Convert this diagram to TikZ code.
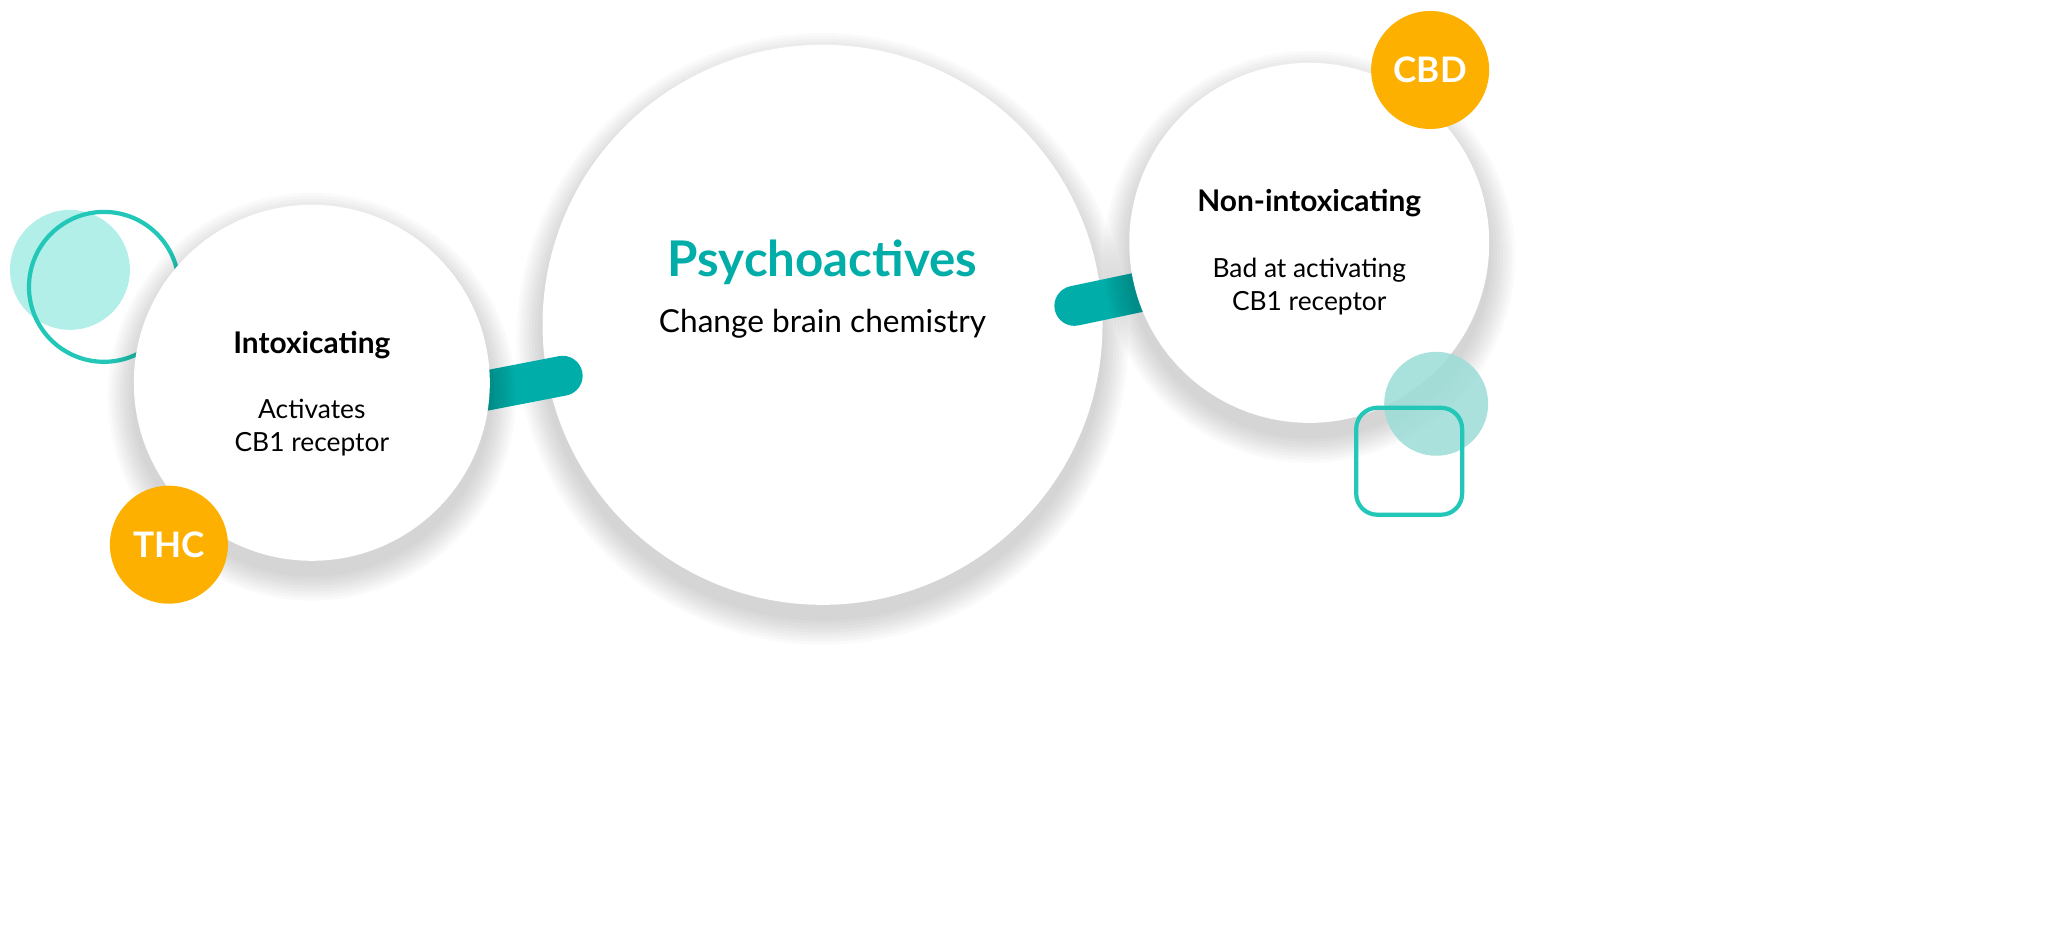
\documentclass[tikz,border=0pt]{standalone}
\usepackage{fontspec}
\setmainfont{Lato}
\usetikzlibrary{calc}
\definecolor{teal1}{HTML}{00ADA8}
\definecolor{tealline}{HTML}{22C7B8}
\definecolor{tealpale}{HTML}{B3EFE9}
\definecolor{tealsoft}{HTML}{9BDCD6}
\definecolor{amber}{HTML}{FDB000}
% soft shadow under a bubble: centre, radius
\newcommand{\bubbleshadow}[2]{%
  \foreach \d in {2,5,...,26}
    \fill[black,opacity=0.018] ($(#1)+(0,14)$) circle ({#2+\d});}
\begin{document}
\begin{tikzpicture}[x=0.01cm,y=-0.01cm,
  bubble/.style={circle,fill=white,inner sep=0pt},
  badge/.style={circle,fill=amber,inner sep=0pt,minimum size=1.18cm,text=white,font=\fontsize{10}{12}\selectfont\bfseries},
  bar/.style={teal1,line width=0.4cm},
  title/.style={font=\fontsize{8.5}{10}\selectfont\bfseries},
  body/.style={font=\fontsize{7.5}{9.5}\selectfont,align=center}]

\useasboundingbox (0cm,0cm) rectangle (20.48cm,-9.31cm);
\clip (0cm,0cm) rectangle (20.48cm,-9.31cm);

% decorations behind
\fill[tealpale] (70,270) circle (60);
\draw[tealline,line width=1.2pt] (104,287) circle (75);

\bubbleshadow{823,325}{280}
\node[bubble,minimum size=5.6cm] (psy) at (823,325) {};

% connectors
\coordinate (l1) at (470,394);
\coordinate (l2) at (563,376);
\coordinate (r1) at (1075,306);
\coordinate (r2) at (1170,286);
\draw[bar,line cap=round] (l1) -- (l2);
\draw[bar,line cap=round] (r1) -- (r2);

\bubbleshadow{312,383}{178}
\node[bubble,minimum size=3.56cm] (intox) at (312,383) {};
\bubbleshadow{1310,243}{180}
\node[bubble,minimum size=3.6cm] (nonintox) at (1310,243) {};

% texts
\node[font=\fontsize{14}{16}\selectfont\bfseries,text=teal1] at (823,262) {Psychoactives};
\node[font=\fontsize{9}{11}\selectfont] at (823,324) {Change brain chemistry};
\node[title] at (312,345) {Intoxicating};
\node[body] at (312,428) {Activates\\CB1 receptor};
\node[title] at (1310,203) {Non-intoxicating};
\node[body] at (1310,287) {Bad at activating\\CB1 receptor};

% badges and extras
\node[badge] (thc) at (169,545) {THC};
\node[badge] (cbd) at (1431,70) {CBD};
\fill[tealsoft,opacity=0.85] (1437,404) circle (52);
\draw[tealline,line width=1.2pt,rounded corners=6pt] (1357,408) rectangle (1463,515);
\end{tikzpicture}
\end{document}
